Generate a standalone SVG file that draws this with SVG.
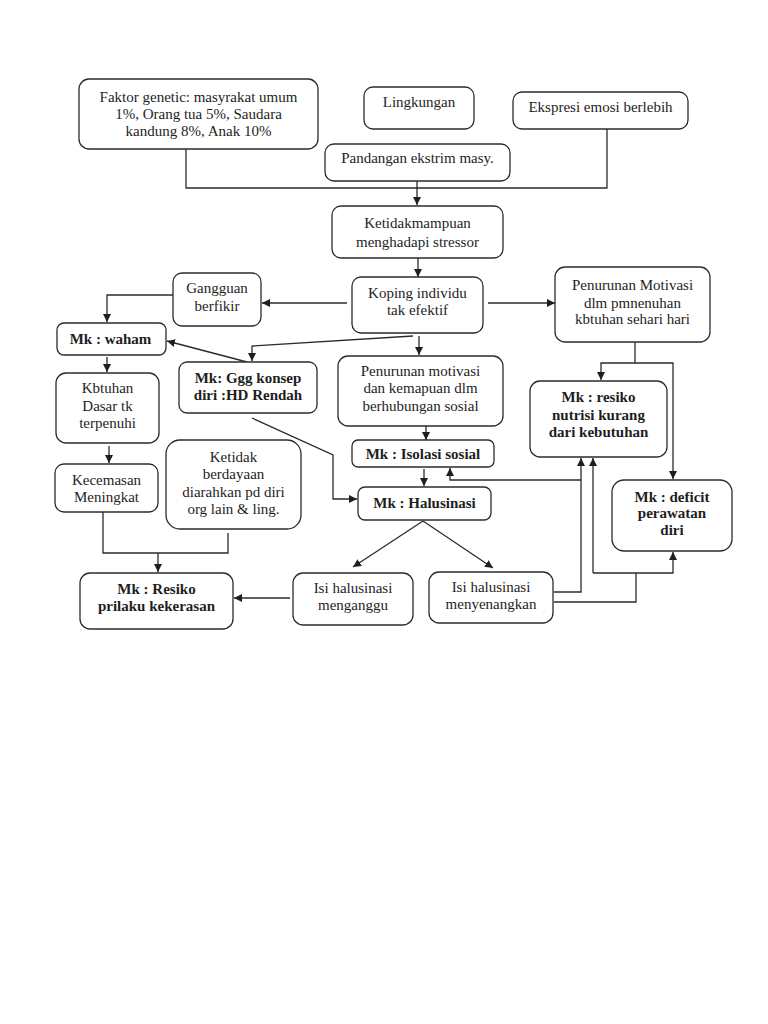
<svg xmlns="http://www.w3.org/2000/svg" width="768" height="1024" viewBox="0 0 768 1024">
<defs>
<style>
.box{fill:#fff;stroke:#2b2b2b;stroke-width:1.3}
.t{font-family:"Liberation Serif","Times New Roman",serif;font-size:15px;fill:#1e1e1e;text-anchor:middle}
.b{font-weight:bold}
.c{fill:none;stroke:#2b2b2b;stroke-width:1.3}
</style>
<marker id="ah" viewBox="0 0 10 10" refX="10" refY="5" markerWidth="8" markerHeight="8" markerUnits="userSpaceOnUse" orient="auto">
<path d="M0,0 L10,5 L0,10 z" fill="#1e1e1e"/>
</marker>
</defs>
<rect width="768" height="1024" fill="#fff"/>
<g id="connectors">
<path class="c" d="M186,149 V188 H607 V129"/>
<path class="c" d="M417,181 V205" marker-end="url(#ah)"/>
<path class="c" d="M418,258 V277" marker-end="url(#ah)"/>
<path class="c" d="M347,303 H262" marker-end="url(#ah)"/>
<path class="c" d="M173,295 H107 V322" marker-end="url(#ah)"/>
<path class="c" d="M488,303 H555" marker-end="url(#ah)"/>
<path class="c" d="M413,336 L252,346 V361" marker-end="url(#ah)"/>
<path class="c" d="M419,336 V355" marker-end="url(#ah)"/>
<path class="c" d="M247,362 L167,341" marker-end="url(#ah)"/>
<path class="c" d="M107,357 V372" marker-end="url(#ah)"/>
<path class="c" d="M109,446 V463" marker-end="url(#ah)"/>
<path class="c" d="M103,512 V553 H228 V533"/>
<path class="c" d="M158,553 V572" marker-end="url(#ah)"/>
<path class="c" d="M252,418 L333,455 V499 H357" marker-end="url(#ah)"/>
<path class="c" d="M426,426 V440" marker-end="url(#ah)"/>
<path class="c" d="M424,469 V486" marker-end="url(#ah)"/>
<path class="c" d="M423,521 L353,567" marker-end="url(#ah)"/>
<path class="c" d="M423,521 L493,568" marker-end="url(#ah)"/>
<path class="c" d="M290,598 H234" marker-end="url(#ah)"/>
<path class="c" d="M554,592 H581 V458" marker-end="url(#ah)"/>
<path class="c" d="M581,480 H450 V468" marker-end="url(#ah)"/>
<path class="c" d="M554,602 H636 V573"/>
<path class="c" d="M593,573 V458" marker-end="url(#ah)"/>
<path class="c" d="M593,573 H673 V552" marker-end="url(#ah)"/>
<path class="c" d="M635,342 V363 H601 V380" marker-end="url(#ah)"/>
<path class="c" d="M635,363 H673 V479" marker-end="url(#ah)"/>
</g>
<g id="faktor">
<rect class="box" x="79" y="79" width="239" height="70" rx="10"/>
<text class="t" x="198.5" y="102">Faktor genetic: masyrakat umum</text>
<text class="t" x="198.5" y="119">1%, Orang tua 5%, Saudara</text>
<text class="t" x="198.5" y="136">kandung 8%, Anak 10%</text>
</g>
<g id="lingkungan">
<rect class="box" x="364" y="87" width="110" height="42" rx="9"/>
<text class="t" x="419" y="107">Lingkungan</text>
</g>
<g id="ekspresi">
<rect class="box" x="513" y="92" width="175" height="37" rx="9"/>
<text class="t" x="600.5" y="112">Ekspresi emosi berlebih</text>
</g>
<g id="pandangan">
<rect class="box" x="325" y="144" width="185" height="37" rx="9"/>
<text class="t" x="417.5" y="163">Pandangan ekstrim masy.</text>
</g>
<g id="ketidakmampuan">
<rect class="box" x="332" y="206" width="171" height="52" rx="9"/>
<text class="t" x="417.5" y="228">Ketidakmampuan</text>
<text class="t" x="417.5" y="247">menghadapi stressor</text>
</g>
<g id="koping">
<rect class="box" x="352" y="277" width="131" height="56" rx="9"/>
<text class="t" x="417.5" y="298">Koping individu</text>
<text class="t" x="417.5" y="315">tak efektif</text>
</g>
<g id="gangguan">
<rect class="box" x="173" y="273" width="88" height="53" rx="9"/>
<text class="t" x="217" y="293">Gangguan</text>
<text class="t" x="217" y="311">berfikir</text>
</g>
<g id="penurunan-motivasi">
<rect class="box" x="555" y="267" width="155" height="75" rx="10"/>
<text class="t" x="632.5" y="290">Penurunan Motivasi</text>
<text class="t" x="632.5" y="308">dlm pmnenuhan</text>
<text class="t" x="632.5" y="324">kbtuhan sehari hari</text>
</g>
<g id="waham">
<rect class="box" x="57" y="323" width="109" height="32" rx="7"/>
<text class="t b" x="110.5" y="344">Mk : waham</text>
</g>
<g id="ggg-konsep">
<rect class="box" x="179" y="362" width="138" height="51" rx="8"/>
<text class="t b" x="248" y="383">Mk: Ggg konsep</text>
<text class="t b" x="248" y="400">diri :HD Rendah</text>
</g>
<g id="kbtuhan">
<rect class="box" x="56" y="373" width="103" height="70" rx="10"/>
<text class="t" x="107.5" y="393">Kbtuhan</text>
<text class="t" x="107.5" y="411">Dasar tk</text>
<text class="t" x="107.5" y="428">terpenuhi</text>
</g>
<g id="penurunan-sosial">
<rect class="box" x="338" y="356" width="165" height="70" rx="10"/>
<text class="t" x="420.5" y="376">Penurunan motivasi</text>
<text class="t" x="420.5" y="393">dan kemapuan dlm</text>
<text class="t" x="420.5" y="411">berhubungan sosial</text>
</g>
<g id="resiko-nutrisi">
<rect class="box" x="530" y="381" width="137" height="76" rx="10"/>
<text class="t b" x="598.5" y="402">Mk : resiko</text>
<text class="t b" x="598.5" y="420">nutrisi kurang</text>
<text class="t b" x="598.5" y="437">dari kebutuhan</text>
</g>
<g id="isolasi">
<rect class="box" x="352" y="440" width="142" height="27" rx="6"/>
<text class="t b" x="423" y="459">Mk : Isolasi sosial</text>
</g>
<g id="kecemasan">
<rect class="box" x="55" y="464" width="103" height="48" rx="9"/>
<text class="t" x="106.5" y="485">Kecemasan</text>
<text class="t" x="106.5" y="502">Meningkat</text>
</g>
<g id="ketidak-berdayaan">
<rect class="box" x="166" y="440" width="135" height="89" rx="14"/>
<text class="t" x="233.5" y="462">Ketidak</text>
<text class="t" x="233.5" y="479">berdayaan</text>
<text class="t" x="233.5" y="497">diarahkan pd diri</text>
<text class="t" x="233.5" y="514">org lain &amp; ling.</text>
</g>
<g id="halusinasi">
<rect class="box" x="358" y="487" width="133" height="33" rx="7"/>
<text class="t b" x="424.5" y="508">Mk : Halusinasi</text>
</g>
<g id="deficit">
<rect class="box" x="612" y="480" width="120" height="71" rx="12"/>
<text class="t b" x="672" y="502">Mk : deficit</text>
<text class="t b" x="672" y="518">perawatan</text>
<text class="t b" x="672" y="535">diri</text>
</g>
<g id="resiko-kekerasan">
<rect class="box" x="80" y="573" width="153" height="56" rx="10"/>
<text class="t b" x="156.5" y="594">Mk : Resiko</text>
<text class="t b" x="156.5" y="611">prilaku kekerasan</text>
</g>
<g id="isi-menganggu">
<rect class="box" x="293" y="573" width="120" height="52" rx="10"/>
<text class="t" x="353" y="593">Isi halusinasi</text>
<text class="t" x="353" y="610">menganggu</text>
</g>
<g id="isi-menyenangkan">
<rect class="box" x="429" y="572" width="124" height="51" rx="10"/>
<text class="t" x="491" y="592">Isi halusinasi</text>
<text class="t" x="491" y="609">menyenangkan</text>
</g>
</svg>
